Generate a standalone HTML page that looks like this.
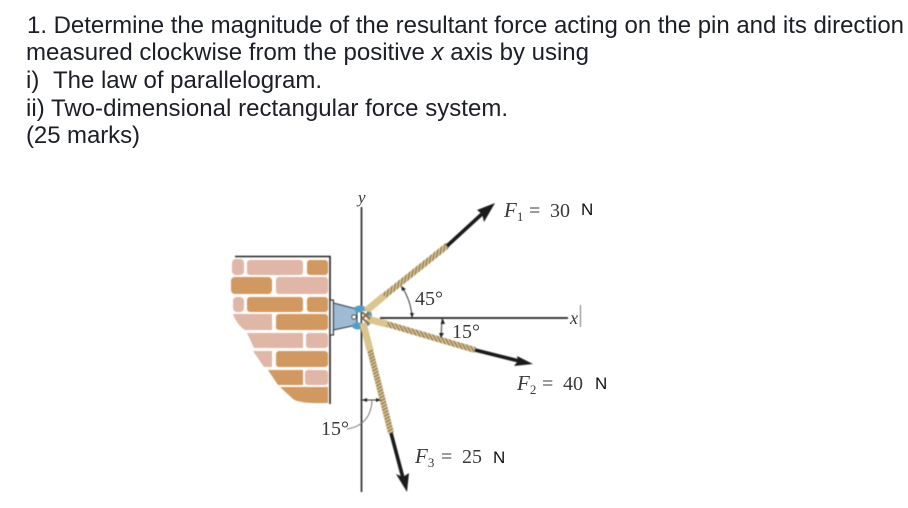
<!DOCTYPE html>
<html><head><meta charset="utf-8">
<style>
html,body{margin:0;padding:0;background:#fff;width:908px;height:508px;overflow:hidden}
svg{position:absolute;left:0;top:0}
.g{filter:blur(.45px)}
.t{font-family:"Liberation Sans",sans-serif;font-size:24px;fill:#1c1f26}
.s{font-family:"Liberation Serif",serif;font-size:20px;fill:#3a3a3a}
.n{font-family:"Liberation Sans",sans-serif;font-size:17px;fill:#111}
.i{font-style:italic}
.f{font-style:italic;font-size:21px}
.sub{font-size:13px}
</style></head><body>
<svg class="g" width="908" height="508" viewBox="0 0 908 508" xmlns="http://www.w3.org/2000/svg">
<defs>
<pattern id="r1" width="3" height="3" patternUnits="userSpaceOnUse" patternTransform="rotate(10)"><rect width="3" height="3" fill="#d9c597"/><rect width="1.2" height="3" fill="#8a7144"/></pattern>
<pattern id="r2" width="3" height="3" patternUnits="userSpaceOnUse" patternTransform="rotate(-30)"><rect width="3" height="3" fill="#d9c597"/><rect width="1.2" height="3" fill="#8a7144"/></pattern>
<pattern id="r3" width="3" height="3" patternUnits="userSpaceOnUse" patternTransform="rotate(60)"><rect width="3" height="3" fill="#d9c597"/><rect width="1.2" height="3" fill="#8a7144"/></pattern>
</defs>
<!-- bricks -->
<g>
<g fill="#e0b6a6">
<rect x="232" y="259" width="12" height="16" rx="4"/>
<rect x="247" y="260" width="56" height="15" rx="3"/>
<rect x="276" y="277" width="52" height="17" rx="3"/>
<rect x="233" y="297" width="11" height="15" rx="4"/>
<path d="M233 314H272V330H245Q237 325 233 314Z"/>
<path d="M247 333H303V348H254Z"/>
<rect x="306" y="333" width="22" height="15" rx="3"/>
<path d="M253 351H272V367H264Z"/>
<rect x="305" y="370" width="23" height="15" rx="3"/>
</g>
<g fill="#d1995f">
<rect x="307" y="260" width="21" height="15" rx="3"/>
<rect x="231" y="277" width="41" height="17" rx="4"/>
<rect x="247" y="297" width="56" height="15" rx="3"/>
<rect x="307" y="297" width="21" height="15" rx="3"/>
<rect x="276" y="314" width="52" height="16" rx="3"/>
<rect x="276" y="351" width="52" height="16" rx="3"/>
<path d="M268 370H303V385H278Z"/>
<path d="M280 387H328V403Q300 404 293 399Z"/>
</g>
</g>
<path d="M235 256.500H330V404" fill="none" stroke="#222" stroke-width="1.600"/>

<!-- y axis and x axis -->
<line x1="361.500" y1="207" x2="361.500" y2="492" stroke="#222" stroke-width="1.600"/>
<line x1="380" y1="318" x2="568" y2="318" stroke="#222" stroke-width="1.800"/>
<line x1="580.500" y1="305" x2="580.500" y2="327" stroke="#777" stroke-width="1"/>

<!-- bracket -->
<rect x="330" y="300" width="3.500" height="35" fill="#dfe6ea" stroke="#222" stroke-width="1"/>
<path d="M333.500 303L357 309V325L333.500 330Z" fill="#9dbbd2" stroke="#2a3a44" stroke-width="1"/>
<ellipse cx="360" cy="309" rx="6" ry="3.500" fill="#4f9fcb"/>
<ellipse cx="358" cy="326" rx="6" ry="3.500" fill="#4f9fcb"/>
<ellipse cx="367" cy="317" rx="5" ry="9" fill="#4f9fcb"/>
<circle cx="354" cy="317" r="2.200" fill="#fff" stroke="#334" stroke-width=".8"/>
<rect x="362" y="311" width="5" height="13" fill="#fff"/>

<!-- ropes -->
<g fill="none">
<line x1="366" y1="311" x2="384" y2="296" stroke="#dcc48d" stroke-width="7"/>
<line x1="384" y1="296" x2="448" y2="245" stroke="url(#r1)" stroke-width="6"/>
<line x1="367" y1="319" x2="387" y2="324" stroke="#dcc48d" stroke-width="7"/>
<line x1="387" y1="324" x2="475" y2="350" stroke="url(#r2)" stroke-width="6"/>
<line x1="363" y1="323" x2="370" y2="350" stroke="#dcc48d" stroke-width="7"/>
<line x1="370" y1="350" x2="391" y2="433" stroke="url(#r3)" stroke-width="6"/>
<path d="M362 312L370 319M369 312L362 319M362 318L369 324" stroke="#8a6f45" stroke-width="2"/>
</g>

<!-- arrows -->
<line x1="447" y1="246" x2="483" y2="213" stroke="#1a1a1a" stroke-width="3.600"/>
<path d="M495 203L484 222L482 214L477 210Z" fill="#1a1a1a"/>
<line x1="475" y1="350" x2="519" y2="361" stroke="#1a1a1a" stroke-width="3.600"/>
<path d="M533 364L514 366L518 361L517 356Z" fill="#1a1a1a"/>
<line x1="391" y1="433" x2="403" y2="478" stroke="#1a1a1a" stroke-width="3.600"/>
<path d="M407 492L396 474L403 477L409 473Z" fill="#1a1a1a"/>

<!-- angle marks -->
<g fill="none" stroke="#333" stroke-width="1">
<path d="M402 287Q411 301 412 317"/>
<line x1="442" y1="319" x2="441" y2="337"/>
<path d="M362 400H379"/>
<path d="M372 400Q371 425 347 429" stroke="#777"/>
</g>
<g fill="#222">
<path d="M401 286L406 289L402 291Z"/>
<path d="M412 318L410 313H414Z"/>
<path d="M443 319L440.500 324H445Z"/>
<path d="M441 338L439 333H444Z"/>
<path d="M362 400L367 398V402Z"/>
<path d="M381 400L376 398V402Z"/>
</g>
</svg>
<svg width="908" height="508" viewBox="0 0 908 508" xmlns="http://www.w3.org/2000/svg">
<text class="t" x="27" y="33" textLength="877" lengthAdjust="spacing">1. Determine the magnitude of the resultant force acting on the pin and its direction</text>
<text class="t" x="26" y="60" textLength="563" lengthAdjust="spacing">measured clockwise from the positive <tspan class="i">x</tspan> axis by using</text>
<text class="t" x="26" y="88">i)</text>
<text class="t" x="53" y="88" textLength="269" lengthAdjust="spacing">The law of parallelogram.</text>
<text class="t" x="26" y="116" textLength="482" lengthAdjust="spacing">ii) Two-dimensional rectangular force system.</text>
<text class="t" x="26" y="143" textLength="114" lengthAdjust="spacing">(25 marks)</text>
<text class="s i" x="358" y="203" style="font-size:17px">y</text>
<text class="s i" x="570" y="324" style="font-size:18px">x</text>
<text class="s" x="415" y="305">45°</text>
<text class="s" x="452" y="338">15°</text>
<text class="s" x="321" y="435">15°</text>
<text class="s" x="504" y="217"><tspan class="f">F</tspan><tspan class="sub" dy="4">1</tspan></text>
<text class="s" x="529" y="217">=</text>
<text class="s" x="550" y="217">30</text>
<text class="n" x="581" y="215">N</text>
<text class="s" x="517" y="390"><tspan class="f">F</tspan><tspan class="sub" dy="4">2</tspan></text>
<text class="s" x="542" y="390">=</text>
<text class="s" x="563" y="390">40</text>
<text class="n" x="595" y="389">N</text>
<text class="s" x="415" y="463"><tspan class="f">F</tspan><tspan class="sub" dy="4">3</tspan></text>
<text class="s" x="441" y="463">=</text>
<text class="s" x="462" y="463">25</text>
<text class="n" x="493" y="463">N</text>
</svg>
</body></html>
